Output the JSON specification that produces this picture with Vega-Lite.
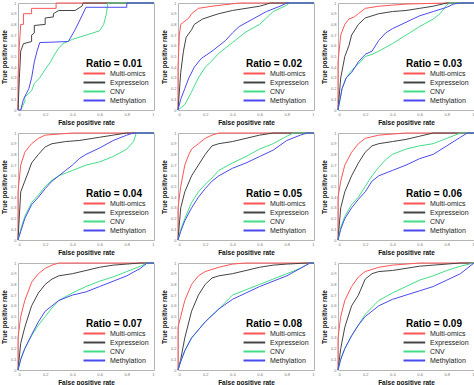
{
"$schema":"https://vega.github.io/schema/vega-lite/v6.json",
"padding":0,
"bounds":"flush",
"columns":3,
"spacing":{"row":23,"column":24},
"datasets":{
"p1":[
{"m":"Multi-omics","x":0,"y":0},{"m":"Multi-omics","x":0,"y":0.3},{"m":"Multi-omics","x":0.01,"y":0.6},{"m":"Multi-omics","x":0.02,"y":0.8},{"m":"Multi-omics","x":0.04,"y":0.8},{"m":"Multi-omics","x":0.04,"y":0.9},{"m":"Multi-omics","x":0.1,"y":0.9},{"m":"Multi-omics","x":0.1,"y":0.95},{"m":"Multi-omics","x":0.28,"y":0.95},{"m":"Multi-omics","x":0.28,"y":1},{"m":"Multi-omics","x":1,"y":1},
{"m":"Expresseion","x":0,"y":0},{"m":"Expresseion","x":0.01,"y":0.3},{"m":"Expresseion","x":0.02,"y":0.55},{"m":"Expresseion","x":0.04,"y":0.62},{"m":"Expresseion","x":0.1,"y":0.64},{"m":"Expresseion","x":0.1,"y":0.7},{"m":"Expresseion","x":0.12,"y":0.72},{"m":"Expresseion","x":0.12,"y":0.79},{"m":"Expresseion","x":0.2,"y":0.8},{"m":"Expresseion","x":0.2,"y":0.86},{"m":"Expresseion","x":0.26,"y":0.87},{"m":"Expresseion","x":0.26,"y":0.9},{"m":"Expresseion","x":0.3,"y":0.93},{"m":"Expresseion","x":0.42,"y":0.93},{"m":"Expresseion","x":0.47,"y":0.97},{"m":"Expresseion","x":0.48,"y":1},{"m":"Expresseion","x":1,"y":1},
{"m":"CNV","x":0.02,"y":0},{"m":"CNV","x":0.05,"y":0.08},{"m":"CNV","x":0.05,"y":0.12},{"m":"CNV","x":0.1,"y":0.18},{"m":"CNV","x":0.12,"y":0.25},{"m":"CNV","x":0.16,"y":0.3},{"m":"CNV","x":0.2,"y":0.38},{"m":"CNV","x":0.24,"y":0.45},{"m":"CNV","x":0.26,"y":0.5},{"m":"CNV","x":0.3,"y":0.58},{"m":"CNV","x":0.33,"y":0.62},{"m":"CNV","x":0.4,"y":0.66},{"m":"CNV","x":0.5,"y":0.7},{"m":"CNV","x":0.6,"y":0.74},{"m":"CNV","x":0.63,"y":0.8},{"m":"CNV","x":0.65,"y":0.9},{"m":"CNV","x":0.66,"y":1},{"m":"CNV","x":1,"y":1},
{"m":"Methylation","x":0,"y":0},{"m":"Methylation","x":0.02,"y":0},{"m":"Methylation","x":0.04,"y":0.1},{"m":"Methylation","x":0.08,"y":0.2},{"m":"Methylation","x":0.1,"y":0.3},{"m":"Methylation","x":0.12,"y":0.45},{"m":"Methylation","x":0.14,"y":0.55},{"m":"Methylation","x":0.16,"y":0.63},{"m":"Methylation","x":0.37,"y":0.64},{"m":"Methylation","x":0.42,"y":0.75},{"m":"Methylation","x":0.47,"y":0.88},{"m":"Methylation","x":0.5,"y":0.96},{"m":"Methylation","x":0.8,"y":0.96},{"m":"Methylation","x":0.8,"y":1},{"m":"Methylation","x":1,"y":1}
],
"p2":[
{"m":"Multi-omics","x":0,"y":0},{"m":"Multi-omics","x":0,"y":0.4},{"m":"Multi-omics","x":0.01,"y":0.7},{"m":"Multi-omics","x":0.02,"y":0.8},{"m":"Multi-omics","x":0.05,"y":0.83},{"m":"Multi-omics","x":0.08,"y":0.86},{"m":"Multi-omics","x":0.1,"y":0.9},{"m":"Multi-omics","x":0.15,"y":0.95},{"m":"Multi-omics","x":0.25,"y":0.97},{"m":"Multi-omics","x":0.45,"y":1},{"m":"Multi-omics","x":1,"y":1},
{"m":"Expresseion","x":0,"y":0},{"m":"Expresseion","x":0.02,"y":0.35},{"m":"Expresseion","x":0.04,"y":0.55},{"m":"Expresseion","x":0.06,"y":0.68},{"m":"Expresseion","x":0.1,"y":0.75},{"m":"Expresseion","x":0.12,"y":0.8},{"m":"Expresseion","x":0.18,"y":0.85},{"m":"Expresseion","x":0.25,"y":0.88},{"m":"Expresseion","x":0.3,"y":0.9},{"m":"Expresseion","x":0.4,"y":0.93},{"m":"Expresseion","x":0.5,"y":0.95},{"m":"Expresseion","x":0.6,"y":0.97},{"m":"Expresseion","x":0.68,"y":1},{"m":"Expresseion","x":1,"y":1},
{"m":"CNV","x":0,"y":0},{"m":"CNV","x":0.05,"y":0.05},{"m":"CNV","x":0.1,"y":0.17},{"m":"CNV","x":0.15,"y":0.3},{"m":"CNV","x":0.2,"y":0.4},{"m":"CNV","x":0.25,"y":0.46},{"m":"CNV","x":0.3,"y":0.53},{"m":"CNV","x":0.35,"y":0.58},{"m":"CNV","x":0.4,"y":0.63},{"m":"CNV","x":0.45,"y":0.68},{"m":"CNV","x":0.5,"y":0.73},{"m":"CNV","x":0.6,"y":0.8},{"m":"CNV","x":0.65,"y":0.86},{"m":"CNV","x":0.7,"y":0.92},{"m":"CNV","x":0.8,"y":0.98},{"m":"CNV","x":0.82,"y":1},{"m":"CNV","x":1,"y":1},
{"m":"Methylation","x":0,"y":0},{"m":"Methylation","x":0.02,"y":0.1},{"m":"Methylation","x":0.05,"y":0.2},{"m":"Methylation","x":0.08,"y":0.3},{"m":"Methylation","x":0.12,"y":0.4},{"m":"Methylation","x":0.17,"y":0.48},{"m":"Methylation","x":0.25,"y":0.55},{"m":"Methylation","x":0.3,"y":0.6},{"m":"Methylation","x":0.35,"y":0.65},{"m":"Methylation","x":0.4,"y":0.72},{"m":"Methylation","x":0.45,"y":0.78},{"m":"Methylation","x":0.55,"y":0.85},{"m":"Methylation","x":0.65,"y":0.92},{"m":"Methylation","x":0.75,"y":0.97},{"m":"Methylation","x":0.8,"y":1},{"m":"Methylation","x":1,"y":1}
],
"p3":[
{"m":"Multi-omics","x":0,"y":0},{"m":"Multi-omics","x":0,"y":0.45},{"m":"Multi-omics","x":0.02,"y":0.7},{"m":"Multi-omics","x":0.05,"y":0.8},{"m":"Multi-omics","x":0.08,"y":0.85},{"m":"Multi-omics","x":0.12,"y":0.87},{"m":"Multi-omics","x":0.15,"y":0.9},{"m":"Multi-omics","x":0.2,"y":0.95},{"m":"Multi-omics","x":0.3,"y":0.97},{"m":"Multi-omics","x":0.4,"y":0.98},{"m":"Multi-omics","x":0.5,"y":0.99},{"m":"Multi-omics","x":0.8,"y":1},{"m":"Multi-omics","x":1,"y":1},
{"m":"Expresseion","x":0,"y":0},{"m":"Expresseion","x":0.02,"y":0.3},{"m":"Expresseion","x":0.05,"y":0.5},{"m":"Expresseion","x":0.08,"y":0.6},{"m":"Expresseion","x":0.1,"y":0.7},{"m":"Expresseion","x":0.15,"y":0.8},{"m":"Expresseion","x":0.2,"y":0.86},{"m":"Expresseion","x":0.25,"y":0.88},{"m":"Expresseion","x":0.3,"y":0.9},{"m":"Expresseion","x":0.4,"y":0.92},{"m":"Expresseion","x":0.5,"y":0.93},{"m":"Expresseion","x":0.6,"y":0.95},{"m":"Expresseion","x":0.7,"y":0.97},{"m":"Expresseion","x":0.8,"y":1},{"m":"Expresseion","x":1,"y":1},
{"m":"CNV","x":0,"y":0},{"m":"CNV","x":0.03,"y":0.2},{"m":"CNV","x":0.06,"y":0.3},{"m":"CNV","x":0.1,"y":0.37},{"m":"CNV","x":0.15,"y":0.43},{"m":"CNV","x":0.2,"y":0.5},{"m":"CNV","x":0.25,"y":0.52},{"m":"CNV","x":0.3,"y":0.55},{"m":"CNV","x":0.4,"y":0.62},{"m":"CNV","x":0.5,"y":0.7},{"m":"CNV","x":0.6,"y":0.78},{"m":"CNV","x":0.7,"y":0.85},{"m":"CNV","x":0.75,"y":0.9},{"m":"CNV","x":0.8,"y":0.98},{"m":"CNV","x":0.82,"y":1},{"m":"CNV","x":1,"y":1},
{"m":"Methylation","x":0,"y":0},{"m":"Methylation","x":0.03,"y":0.2},{"m":"Methylation","x":0.06,"y":0.3},{"m":"Methylation","x":0.1,"y":0.35},{"m":"Methylation","x":0.15,"y":0.45},{"m":"Methylation","x":0.2,"y":0.52},{"m":"Methylation","x":0.25,"y":0.55},{"m":"Methylation","x":0.3,"y":0.65},{"m":"Methylation","x":0.35,"y":0.72},{"m":"Methylation","x":0.4,"y":0.76},{"m":"Methylation","x":0.5,"y":0.82},{"m":"Methylation","x":0.6,"y":0.88},{"m":"Methylation","x":0.7,"y":0.92},{"m":"Methylation","x":0.8,"y":0.96},{"m":"Methylation","x":0.85,"y":0.99},{"m":"Methylation","x":0.9,"y":1},{"m":"Methylation","x":1,"y":1}
],
"p4":[
{"m":"Multi-omics","x":0,"y":0},{"m":"Multi-omics","x":0,"y":0.45},{"m":"Multi-omics","x":0.02,"y":0.7},{"m":"Multi-omics","x":0.05,"y":0.82},{"m":"Multi-omics","x":0.08,"y":0.87},{"m":"Multi-omics","x":0.1,"y":0.9},{"m":"Multi-omics","x":0.15,"y":0.95},{"m":"Multi-omics","x":0.2,"y":0.98},{"m":"Multi-omics","x":0.3,"y":0.99},{"m":"Multi-omics","x":0.4,"y":1},{"m":"Multi-omics","x":1,"y":1},
{"m":"Expresseion","x":0,"y":0},{"m":"Expresseion","x":0.02,"y":0.45},{"m":"Expresseion","x":0.05,"y":0.55},{"m":"Expresseion","x":0.08,"y":0.65},{"m":"Expresseion","x":0.1,"y":0.72},{"m":"Expresseion","x":0.15,"y":0.8},{"m":"Expresseion","x":0.2,"y":0.87},{"m":"Expresseion","x":0.25,"y":0.9},{"m":"Expresseion","x":0.35,"y":0.92},{"m":"Expresseion","x":0.45,"y":0.93},{"m":"Expresseion","x":0.5,"y":0.94},{"m":"Expresseion","x":0.6,"y":0.96},{"m":"Expresseion","x":0.7,"y":0.98},{"m":"Expresseion","x":0.8,"y":1},{"m":"Expresseion","x":1,"y":1},
{"m":"CNV","x":0,"y":0},{"m":"CNV","x":0.02,"y":0.1},{"m":"CNV","x":0.05,"y":0.22},{"m":"CNV","x":0.1,"y":0.35},{"m":"CNV","x":0.15,"y":0.42},{"m":"CNV","x":0.2,"y":0.5},{"m":"CNV","x":0.25,"y":0.56},{"m":"CNV","x":0.3,"y":0.6},{"m":"CNV","x":0.4,"y":0.65},{"m":"CNV","x":0.5,"y":0.7},{"m":"CNV","x":0.6,"y":0.73},{"m":"CNV","x":0.7,"y":0.78},{"m":"CNV","x":0.8,"y":0.85},{"m":"CNV","x":0.85,"y":0.92},{"m":"CNV","x":0.87,"y":1},{"m":"CNV","x":1,"y":1},
{"m":"Methylation","x":0,"y":0},{"m":"Methylation","x":0.02,"y":0.08},{"m":"Methylation","x":0.05,"y":0.2},{"m":"Methylation","x":0.1,"y":0.33},{"m":"Methylation","x":0.15,"y":0.4},{"m":"Methylation","x":0.2,"y":0.48},{"m":"Methylation","x":0.25,"y":0.55},{"m":"Methylation","x":0.3,"y":0.6},{"m":"Methylation","x":0.35,"y":0.65},{"m":"Methylation","x":0.4,"y":0.7},{"m":"Methylation","x":0.45,"y":0.76},{"m":"Methylation","x":0.5,"y":0.8},{"m":"Methylation","x":0.6,"y":0.86},{"m":"Methylation","x":0.7,"y":0.93},{"m":"Methylation","x":0.8,"y":0.98},{"m":"Methylation","x":0.85,"y":1},{"m":"Methylation","x":1,"y":1}
],
"p5":[
{"m":"Multi-omics","x":0,"y":0},{"m":"Multi-omics","x":0,"y":0.3},{"m":"Multi-omics","x":0.02,"y":0.5},{"m":"Multi-omics","x":0.05,"y":0.7},{"m":"Multi-omics","x":0.08,"y":0.8},{"m":"Multi-omics","x":0.1,"y":0.85},{"m":"Multi-omics","x":0.15,"y":0.9},{"m":"Multi-omics","x":0.2,"y":0.95},{"m":"Multi-omics","x":0.25,"y":0.98},{"m":"Multi-omics","x":0.3,"y":1},{"m":"Multi-omics","x":1,"y":1},
{"m":"Expresseion","x":0,"y":0},{"m":"Expresseion","x":0.02,"y":0.3},{"m":"Expresseion","x":0.05,"y":0.45},{"m":"Expresseion","x":0.1,"y":0.6},{"m":"Expresseion","x":0.15,"y":0.7},{"m":"Expresseion","x":0.2,"y":0.8},{"m":"Expresseion","x":0.25,"y":0.88},{"m":"Expresseion","x":0.3,"y":0.9},{"m":"Expresseion","x":0.4,"y":0.92},{"m":"Expresseion","x":0.5,"y":0.95},{"m":"Expresseion","x":0.6,"y":0.98},{"m":"Expresseion","x":0.7,"y":1},{"m":"Expresseion","x":1,"y":1},
{"m":"CNV","x":0,"y":0},{"m":"CNV","x":0.02,"y":0.1},{"m":"CNV","x":0.05,"y":0.2},{"m":"CNV","x":0.1,"y":0.35},{"m":"CNV","x":0.15,"y":0.45},{"m":"CNV","x":0.2,"y":0.52},{"m":"CNV","x":0.25,"y":0.58},{"m":"CNV","x":0.3,"y":0.65},{"m":"CNV","x":0.4,"y":0.72},{"m":"CNV","x":0.5,"y":0.78},{"m":"CNV","x":0.6,"y":0.85},{"m":"CNV","x":0.7,"y":0.9},{"m":"CNV","x":0.8,"y":0.97},{"m":"CNV","x":0.85,"y":1},{"m":"CNV","x":1,"y":1},
{"m":"Methylation","x":0,"y":0},{"m":"Methylation","x":0.02,"y":0.08},{"m":"Methylation","x":0.05,"y":0.18},{"m":"Methylation","x":0.1,"y":0.3},{"m":"Methylation","x":0.15,"y":0.4},{"m":"Methylation","x":0.2,"y":0.48},{"m":"Methylation","x":0.25,"y":0.55},{"m":"Methylation","x":0.3,"y":0.6},{"m":"Methylation","x":0.4,"y":0.67},{"m":"Methylation","x":0.5,"y":0.72},{"m":"Methylation","x":0.6,"y":0.78},{"m":"Methylation","x":0.7,"y":0.84},{"m":"Methylation","x":0.8,"y":0.93},{"m":"Methylation","x":0.9,"y":0.98},{"m":"Methylation","x":0.95,"y":1},{"m":"Methylation","x":1,"y":1}
],
"p6":[
{"m":"Multi-omics","x":0,"y":0},{"m":"Multi-omics","x":0,"y":0.4},{"m":"Multi-omics","x":0.02,"y":0.55},{"m":"Multi-omics","x":0.05,"y":0.7},{"m":"Multi-omics","x":0.1,"y":0.82},{"m":"Multi-omics","x":0.15,"y":0.9},{"m":"Multi-omics","x":0.2,"y":0.95},{"m":"Multi-omics","x":0.3,"y":0.98},{"m":"Multi-omics","x":0.4,"y":0.99},{"m":"Multi-omics","x":0.5,"y":1},{"m":"Multi-omics","x":1,"y":1},
{"m":"Expresseion","x":0,"y":0},{"m":"Expresseion","x":0.02,"y":0.3},{"m":"Expresseion","x":0.05,"y":0.45},{"m":"Expresseion","x":0.1,"y":0.6},{"m":"Expresseion","x":0.15,"y":0.72},{"m":"Expresseion","x":0.2,"y":0.82},{"m":"Expresseion","x":0.25,"y":0.88},{"m":"Expresseion","x":0.3,"y":0.9},{"m":"Expresseion","x":0.4,"y":0.92},{"m":"Expresseion","x":0.5,"y":0.94},{"m":"Expresseion","x":0.6,"y":0.97},{"m":"Expresseion","x":0.7,"y":1},{"m":"Expresseion","x":1,"y":1},
{"m":"CNV","x":0,"y":0},{"m":"CNV","x":0.02,"y":0.12},{"m":"CNV","x":0.05,"y":0.22},{"m":"CNV","x":0.1,"y":0.33},{"m":"CNV","x":0.15,"y":0.4},{"m":"CNV","x":0.2,"y":0.5},{"m":"CNV","x":0.25,"y":0.6},{"m":"CNV","x":0.3,"y":0.68},{"m":"CNV","x":0.35,"y":0.75},{"m":"CNV","x":0.4,"y":0.8},{"m":"CNV","x":0.5,"y":0.85},{"m":"CNV","x":0.6,"y":0.88},{"m":"CNV","x":0.7,"y":0.9},{"m":"CNV","x":0.8,"y":0.95},{"m":"CNV","x":0.9,"y":1},{"m":"CNV","x":1,"y":1},
{"m":"Methylation","x":0,"y":0},{"m":"Methylation","x":0.02,"y":0.1},{"m":"Methylation","x":0.05,"y":0.2},{"m":"Methylation","x":0.1,"y":0.3},{"m":"Methylation","x":0.15,"y":0.38},{"m":"Methylation","x":0.2,"y":0.45},{"m":"Methylation","x":0.25,"y":0.55},{"m":"Methylation","x":0.3,"y":0.6},{"m":"Methylation","x":0.4,"y":0.65},{"m":"Methylation","x":0.5,"y":0.7},{"m":"Methylation","x":0.6,"y":0.76},{"m":"Methylation","x":0.7,"y":0.8},{"m":"Methylation","x":0.8,"y":0.88},{"m":"Methylation","x":0.9,"y":0.96},{"m":"Methylation","x":0.95,"y":1},{"m":"Methylation","x":1,"y":1}
],
"p7":[
{"m":"Multi-omics","x":0,"y":0},{"m":"Multi-omics","x":0,"y":0.3},{"m":"Multi-omics","x":0.02,"y":0.5},{"m":"Multi-omics","x":0.05,"y":0.65},{"m":"Multi-omics","x":0.08,"y":0.75},{"m":"Multi-omics","x":0.1,"y":0.82},{"m":"Multi-omics","x":0.15,"y":0.9},{"m":"Multi-omics","x":0.2,"y":0.95},{"m":"Multi-omics","x":0.25,"y":0.98},{"m":"Multi-omics","x":0.3,"y":1},{"m":"Multi-omics","x":1,"y":1},
{"m":"Expresseion","x":0,"y":0},{"m":"Expresseion","x":0.02,"y":0.25},{"m":"Expresseion","x":0.05,"y":0.4},{"m":"Expresseion","x":0.1,"y":0.6},{"m":"Expresseion","x":0.15,"y":0.72},{"m":"Expresseion","x":0.2,"y":0.8},{"m":"Expresseion","x":0.25,"y":0.85},{"m":"Expresseion","x":0.3,"y":0.88},{"m":"Expresseion","x":0.4,"y":0.9},{"m":"Expresseion","x":0.5,"y":0.93},{"m":"Expresseion","x":0.6,"y":0.96},{"m":"Expresseion","x":0.7,"y":0.98},{"m":"Expresseion","x":0.8,"y":0.99},{"m":"Expresseion","x":0.9,"y":1},{"m":"Expresseion","x":1,"y":1},
{"m":"CNV","x":0,"y":0},{"m":"CNV","x":0.02,"y":0.1},{"m":"CNV","x":0.05,"y":0.2},{"m":"CNV","x":0.1,"y":0.32},{"m":"CNV","x":0.15,"y":0.42},{"m":"CNV","x":0.2,"y":0.5},{"m":"CNV","x":0.25,"y":0.58},{"m":"CNV","x":0.3,"y":0.65},{"m":"CNV","x":0.4,"y":0.72},{"m":"CNV","x":0.5,"y":0.78},{"m":"CNV","x":0.6,"y":0.83},{"m":"CNV","x":0.7,"y":0.87},{"m":"CNV","x":0.8,"y":0.92},{"m":"CNV","x":0.9,"y":0.97},{"m":"CNV","x":0.95,"y":1},{"m":"CNV","x":1,"y":1},
{"m":"Methylation","x":0,"y":0},{"m":"Methylation","x":0.02,"y":0.1},{"m":"Methylation","x":0.05,"y":0.2},{"m":"Methylation","x":0.1,"y":0.33},{"m":"Methylation","x":0.15,"y":0.45},{"m":"Methylation","x":0.2,"y":0.55},{"m":"Methylation","x":0.25,"y":0.6},{"m":"Methylation","x":0.3,"y":0.65},{"m":"Methylation","x":0.4,"y":0.7},{"m":"Methylation","x":0.5,"y":0.73},{"m":"Methylation","x":0.6,"y":0.78},{"m":"Methylation","x":0.7,"y":0.83},{"m":"Methylation","x":0.8,"y":0.88},{"m":"Methylation","x":0.9,"y":0.95},{"m":"Methylation","x":0.95,"y":1},{"m":"Methylation","x":1,"y":1}
],
"p8":[
{"m":"Multi-omics","x":0,"y":0},{"m":"Multi-omics","x":0,"y":0.4},{"m":"Multi-omics","x":0.02,"y":0.5},{"m":"Multi-omics","x":0.05,"y":0.65},{"m":"Multi-omics","x":0.1,"y":0.8},{"m":"Multi-omics","x":0.15,"y":0.88},{"m":"Multi-omics","x":0.2,"y":0.92},{"m":"Multi-omics","x":0.3,"y":0.96},{"m":"Multi-omics","x":0.4,"y":0.99},{"m":"Multi-omics","x":0.5,"y":1},{"m":"Multi-omics","x":1,"y":1},
{"m":"Expresseion","x":0,"y":0},{"m":"Expresseion","x":0.02,"y":0.1},{"m":"Expresseion","x":0.05,"y":0.3},{"m":"Expresseion","x":0.1,"y":0.55},{"m":"Expresseion","x":0.15,"y":0.7},{"m":"Expresseion","x":0.2,"y":0.8},{"m":"Expresseion","x":0.25,"y":0.86},{"m":"Expresseion","x":0.3,"y":0.88},{"m":"Expresseion","x":0.4,"y":0.9},{"m":"Expresseion","x":0.5,"y":0.93},{"m":"Expresseion","x":0.6,"y":0.96},{"m":"Expresseion","x":0.7,"y":0.98},{"m":"Expresseion","x":0.8,"y":0.99},{"m":"Expresseion","x":0.95,"y":1},{"m":"Expresseion","x":1,"y":1},
{"m":"CNV","x":0,"y":0},{"m":"CNV","x":0.02,"y":0.08},{"m":"CNV","x":0.05,"y":0.18},{"m":"CNV","x":0.1,"y":0.3},{"m":"CNV","x":0.2,"y":0.45},{"m":"CNV","x":0.3,"y":0.57},{"m":"CNV","x":0.4,"y":0.7},{"m":"CNV","x":0.5,"y":0.75},{"m":"CNV","x":0.6,"y":0.8},{"m":"CNV","x":0.7,"y":0.85},{"m":"CNV","x":0.8,"y":0.9},{"m":"CNV","x":0.9,"y":0.95},{"m":"CNV","x":0.97,"y":1},{"m":"CNV","x":1,"y":1},
{"m":"Methylation","x":0,"y":0},{"m":"Methylation","x":0.02,"y":0.08},{"m":"Methylation","x":0.05,"y":0.18},{"m":"Methylation","x":0.1,"y":0.3},{"m":"Methylation","x":0.2,"y":0.45},{"m":"Methylation","x":0.3,"y":0.57},{"m":"Methylation","x":0.4,"y":0.66},{"m":"Methylation","x":0.5,"y":0.72},{"m":"Methylation","x":0.6,"y":0.78},{"m":"Methylation","x":0.7,"y":0.83},{"m":"Methylation","x":0.8,"y":0.88},{"m":"Methylation","x":0.9,"y":0.95},{"m":"Methylation","x":0.97,"y":1},{"m":"Methylation","x":1,"y":1}
],
"p9":[
{"m":"Multi-omics","x":0,"y":0},{"m":"Multi-omics","x":0,"y":0.3},{"m":"Multi-omics","x":0.02,"y":0.5},{"m":"Multi-omics","x":0.05,"y":0.65},{"m":"Multi-omics","x":0.1,"y":0.78},{"m":"Multi-omics","x":0.15,"y":0.87},{"m":"Multi-omics","x":0.2,"y":0.92},{"m":"Multi-omics","x":0.3,"y":0.96},{"m":"Multi-omics","x":0.4,"y":0.98},{"m":"Multi-omics","x":0.5,"y":0.99},{"m":"Multi-omics","x":0.6,"y":1},{"m":"Multi-omics","x":1,"y":1},
{"m":"Expresseion","x":0,"y":0},{"m":"Expresseion","x":0.02,"y":0.2},{"m":"Expresseion","x":0.05,"y":0.4},{"m":"Expresseion","x":0.1,"y":0.6},{"m":"Expresseion","x":0.15,"y":0.7},{"m":"Expresseion","x":0.2,"y":0.85},{"m":"Expresseion","x":0.25,"y":0.9},{"m":"Expresseion","x":0.3,"y":0.92},{"m":"Expresseion","x":0.4,"y":0.93},{"m":"Expresseion","x":0.5,"y":0.95},{"m":"Expresseion","x":0.6,"y":0.97},{"m":"Expresseion","x":0.7,"y":0.98},{"m":"Expresseion","x":0.8,"y":0.99},{"m":"Expresseion","x":0.9,"y":1},{"m":"Expresseion","x":1,"y":1},
{"m":"CNV","x":0,"y":0},{"m":"CNV","x":0.02,"y":0.1},{"m":"CNV","x":0.05,"y":0.2},{"m":"CNV","x":0.1,"y":0.32},{"m":"CNV","x":0.15,"y":0.42},{"m":"CNV","x":0.2,"y":0.52},{"m":"CNV","x":0.3,"y":0.65},{"m":"CNV","x":0.4,"y":0.72},{"m":"CNV","x":0.5,"y":0.78},{"m":"CNV","x":0.6,"y":0.84},{"m":"CNV","x":0.7,"y":0.88},{"m":"CNV","x":0.8,"y":0.93},{"m":"CNV","x":0.9,"y":0.97},{"m":"CNV","x":1,"y":1},
{"m":"Methylation","x":0,"y":0},{"m":"Methylation","x":0.02,"y":0.1},{"m":"Methylation","x":0.05,"y":0.2},{"m":"Methylation","x":0.1,"y":0.32},{"m":"Methylation","x":0.15,"y":0.42},{"m":"Methylation","x":0.2,"y":0.5},{"m":"Methylation","x":0.3,"y":0.6},{"m":"Methylation","x":0.4,"y":0.66},{"m":"Methylation","x":0.5,"y":0.7},{"m":"Methylation","x":0.6,"y":0.74},{"m":"Methylation","x":0.7,"y":0.78},{"m":"Methylation","x":0.8,"y":0.84},{"m":"Methylation","x":0.9,"y":0.9},{"m":"Methylation","x":1,"y":1}
]
},
"concat":[
{"width":136,"height":107,"data":{"name":"p1"},"mark":{"type":"line","strokeWidth":1},"encoding":{"x":{"field":"x","type":"quantitative","scale":{"domain":[0,1]},"axis":{"title":"False positive rate","values":[0,0.2,0.4,0.6,0.8,1],"format":"~g"}},"y":{"field":"y","type":"quantitative","scale":{"domain":[0,1]},"axis":{"title":"True positive rate","values":[0,0.1,0.2,0.3,0.4,0.5,0.6,0.7,0.8,0.9,1],"format":"~g"}},"color":{"field":"m","type":"nominal","scale":{"domain":["Multi-omics","Expresseion","CNV","Methylation"],"range":["#ff5555","#444444","#44dd88","#4a4aee"]},"legend":{"title":"Ratio = 0.01"}},"order":{"value":null}}},
{"width":136,"height":107,"data":{"name":"p2"},"mark":{"type":"line","strokeWidth":1},"encoding":{"x":{"field":"x","type":"quantitative","scale":{"domain":[0,1]},"axis":{"title":"False positive rate","values":[0,0.2,0.4,0.6,0.8,1],"format":"~g"}},"y":{"field":"y","type":"quantitative","scale":{"domain":[0,1]},"axis":{"title":"True positive rate","values":[0,0.1,0.2,0.3,0.4,0.5,0.6,0.7,0.8,0.9,1],"format":"~g"}},"color":{"field":"m","type":"nominal","scale":{"domain":["Multi-omics","Expresseion","CNV","Methylation"],"range":["#ff5555","#444444","#44dd88","#4a4aee"]},"legend":{"title":"Ratio = 0.02"}},"order":{"value":null}}},
{"width":136,"height":107,"data":{"name":"p3"},"mark":{"type":"line","strokeWidth":1},"encoding":{"x":{"field":"x","type":"quantitative","scale":{"domain":[0,1]},"axis":{"title":"False positive rate","values":[0,0.2,0.4,0.6,0.8,1],"format":"~g"}},"y":{"field":"y","type":"quantitative","scale":{"domain":[0,1]},"axis":{"title":"True positive rate","values":[0,0.1,0.2,0.3,0.4,0.5,0.6,0.7,0.8,0.9,1],"format":"~g"}},"color":{"field":"m","type":"nominal","scale":{"domain":["Multi-omics","Expresseion","CNV","Methylation"],"range":["#ff5555","#444444","#44dd88","#4a4aee"]},"legend":{"title":"Ratio = 0.03"}},"order":{"value":null}}},
{"width":136,"height":107,"data":{"name":"p4"},"mark":{"type":"line","strokeWidth":1},"encoding":{"x":{"field":"x","type":"quantitative","scale":{"domain":[0,1]},"axis":{"title":"False positive rate","values":[0,0.2,0.4,0.6,0.8,1],"format":"~g"}},"y":{"field":"y","type":"quantitative","scale":{"domain":[0,1]},"axis":{"title":"True positive rate","values":[0,0.1,0.2,0.3,0.4,0.5,0.6,0.7,0.8,0.9,1],"format":"~g"}},"color":{"field":"m","type":"nominal","scale":{"domain":["Multi-omics","Expresseion","CNV","Methylation"],"range":["#ff5555","#444444","#44dd88","#4a4aee"]},"legend":{"title":"Ratio = 0.04"}},"order":{"value":null}}},
{"width":136,"height":107,"data":{"name":"p5"},"mark":{"type":"line","strokeWidth":1},"encoding":{"x":{"field":"x","type":"quantitative","scale":{"domain":[0,1]},"axis":{"title":"False positive rate","values":[0,0.2,0.4,0.6,0.8,1],"format":"~g"}},"y":{"field":"y","type":"quantitative","scale":{"domain":[0,1]},"axis":{"title":"True positive rate","values":[0,0.1,0.2,0.3,0.4,0.5,0.6,0.7,0.8,0.9,1],"format":"~g"}},"color":{"field":"m","type":"nominal","scale":{"domain":["Multi-omics","Expresseion","CNV","Methylation"],"range":["#ff5555","#444444","#44dd88","#4a4aee"]},"legend":{"title":"Ratio = 0.05"}},"order":{"value":null}}},
{"width":136,"height":107,"data":{"name":"p6"},"mark":{"type":"line","strokeWidth":1},"encoding":{"x":{"field":"x","type":"quantitative","scale":{"domain":[0,1]},"axis":{"title":"False positive rate","values":[0,0.2,0.4,0.6,0.8,1],"format":"~g"}},"y":{"field":"y","type":"quantitative","scale":{"domain":[0,1]},"axis":{"title":"True positive rate","values":[0,0.1,0.2,0.3,0.4,0.5,0.6,0.7,0.8,0.9,1],"format":"~g"}},"color":{"field":"m","type":"nominal","scale":{"domain":["Multi-omics","Expresseion","CNV","Methylation"],"range":["#ff5555","#444444","#44dd88","#4a4aee"]},"legend":{"title":"Ratio = 0.06"}},"order":{"value":null}}},
{"width":136,"height":107,"data":{"name":"p7"},"mark":{"type":"line","strokeWidth":1},"encoding":{"x":{"field":"x","type":"quantitative","scale":{"domain":[0,1]},"axis":{"title":"False positive rate","values":[0,0.2,0.4,0.6,0.8,1],"format":"~g"}},"y":{"field":"y","type":"quantitative","scale":{"domain":[0,1]},"axis":{"title":"True positive rate","values":[0,0.1,0.2,0.3,0.4,0.5,0.6,0.7,0.8,0.9,1],"format":"~g"}},"color":{"field":"m","type":"nominal","scale":{"domain":["Multi-omics","Expresseion","CNV","Methylation"],"range":["#ff5555","#444444","#44dd88","#4a4aee"]},"legend":{"title":"Ratio = 0.07"}},"order":{"value":null}}},
{"width":136,"height":107,"data":{"name":"p8"},"mark":{"type":"line","strokeWidth":1},"encoding":{"x":{"field":"x","type":"quantitative","scale":{"domain":[0,1]},"axis":{"title":"False positive rate","values":[0,0.2,0.4,0.6,0.8,1],"format":"~g"}},"y":{"field":"y","type":"quantitative","scale":{"domain":[0,1]},"axis":{"title":"True positive rate","values":[0,0.1,0.2,0.3,0.4,0.5,0.6,0.7,0.8,0.9,1],"format":"~g"}},"color":{"field":"m","type":"nominal","scale":{"domain":["Multi-omics","Expresseion","CNV","Methylation"],"range":["#ff5555","#444444","#44dd88","#4a4aee"]},"legend":{"title":"Ratio = 0.08"}},"order":{"value":null}}},
{"width":136,"height":107,"data":{"name":"p9"},"mark":{"type":"line","strokeWidth":1},"encoding":{"x":{"field":"x","type":"quantitative","scale":{"domain":[0,1]},"axis":{"title":"False positive rate","values":[0,0.2,0.4,0.6,0.8,1],"format":"~g"}},"y":{"field":"y","type":"quantitative","scale":{"domain":[0,1]},"axis":{"title":"True positive rate","values":[0,0.1,0.2,0.3,0.4,0.5,0.6,0.7,0.8,0.9,1],"format":"~g"}},"color":{"field":"m","type":"nominal","scale":{"domain":["Multi-omics","Expresseion","CNV","Methylation"],"range":["#ff5555","#444444","#44dd88","#4a4aee"]},"legend":{"title":"Ratio = 0.09"}},"order":{"value":null}}}
],
"resolve":{"scale":{"color":"independent"},"legend":{"color":"independent"}},
"config":{
"font":"Liberation Sans",
"view":{"stroke":"#b5b5b5","strokeWidth":1},
"axis":{"domain":false,"ticks":false,"grid":false,"labelFontSize":4,"labelColor":"#777777","labelPadding":2,"titleFontSize":6.5,"titleFontWeight":"bold","titleColor":"#111111","titlePadding":3},
"legend":{"orient":"bottom-right","offset":5,"padding":0,"titleFontSize":10,"titleFontWeight":"bold","titleColor":"#000000","titleAnchor":"middle","titlePadding":0,"labelFontSize":7,"labelColor":"#222222","labelOffset":22,"symbolType":"M0,0H6.2","symbolSize":49,"symbolStrokeWidth":2,"rowPadding":0}
}
}
